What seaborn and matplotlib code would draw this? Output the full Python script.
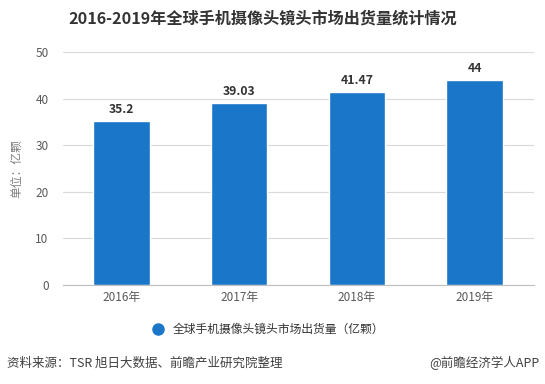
import matplotlib
matplotlib.use("Agg")
import matplotlib.pyplot as plt
import seaborn as sns
import pandas as pd

years = ["2016年", "2017年", "2018年", "2019年"]
values = [35.2, 39.03, 41.47, 44]
value_labels = ["35.2", "39.03", "41.47", "44"]
yticks = [0, 10, 20, 30, 40, 50]
series_name = "全球手机摄像头镜头市场出货量（亿颗）"
title = "2016-2019年全球手机摄像头镜头市场出货量统计情况"
ylabel = "单位：亿颗"
source = "资料来源：TSR 旭日大数据、前瞻产业研究院整理"
brand = "@前瞻经济学人APP"

sns.set_theme(style="white")
plt.rcParams['font.family'] = ['Noto Sans CJK SC', 'DejaVu Sans']

df = pd.DataFrame({"year": years, "value": values})
color = "#1a76c8"

fig = plt.figure(figsize=(5.45, 3.84), dpi=100)
ax = fig.add_axes([0.1147, 0.2578, 0.8642, 0.6068])
sns.barplot(data=df, x="year", y="value", color=color, width=0.48,
            saturation=1, ax=ax, zorder=3)

ax.set_ylim(0, 50)
ax.set_yticks(yticks)
ax.yaxis.grid(True, color="#d9d9d9", linewidth=0.8, zorder=0)
for s in ["top", "right", "left"]:
    ax.spines[s].set_visible(False)
ax.spines["bottom"].set_color("#bfbfbf")
ax.spines["bottom"].set_linewidth(0.8)
ax.tick_params(axis="both", length=0, labelsize=8.5, labelcolor="#595959", pad=4)
ax.tick_params(axis="y", pad=10)
ax.set_xlabel("")
ax.set_ylabel(ylabel, fontsize=8.5, color="#7f7f7f", labelpad=9)

for i, (v, lab) in enumerate(zip(values, value_labels)):
    ax.text(i, v + 1.1, lab, ha="center", va="bottom", fontsize=8.8,
            fontweight="bold", color="#333333")

fig.text(0.482, 0.952, title, ha="center", va="center", fontsize=11.6,
         fontweight="bold", color="#333333")

# legend
fig.lines.append(plt.Line2D([158/545], [1-329/384], marker="o", markersize=8,
                            color=color, linestyle="none",
                            transform=fig.transFigure))
fig.text(173/545, 1-329/384, series_name, ha="left", va="center",
         fontsize=8.5, color="#333333")

fig.text(7/545, 1-363/384, source, ha="left", va="center", fontsize=9,
         color="#404040")
fig.text(540/545, 1-363/384, brand, ha="right", va="center", fontsize=9,
         color="#404040")

fig.savefig("out.png", dpi=100, facecolor="white")
